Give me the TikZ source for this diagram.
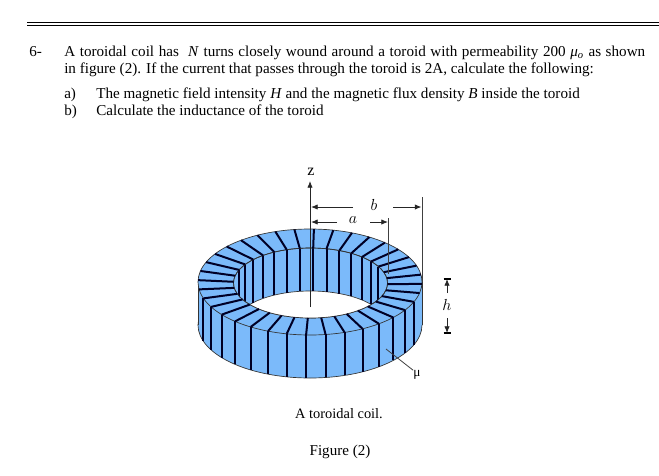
\documentclass[tikz,border=0pt]{standalone}
\usepackage{fontspec}
\usetikzlibrary{arrows.meta}
\setmainfont{Liberation Serif}
\tikzset{
  txt/.style={anchor=base west,inner sep=0pt,font=\fontsize{11.35pt}{12pt}\selectfont},
  caption/.style={anchor=base,inner sep=0pt,font=\fontsize{10.8pt}{12pt}\selectfont},
  dim/.style={inner sep=0pt,font=\fontsize{12pt}{12pt}\selectfont},
  body/.style={fill=coilblue,draw=black!80,line width=0.5pt},
  turn/.style={black!85!blue,line width=1.5pt},
  dimline/.style={black!75,line width=0.6pt},
  dimarrow/.style={black!85,line width=0.6pt,-{Latex[length=5pt,width=4pt]}}
}
\definecolor{coilblue}{HTML}{7BBAFA}
\begin{document}
\begin{tikzpicture}[x=0.75pt,y=-0.75pt]
  \useasboundingbox (0,0) rectangle (659,475);
  % heading rule
  \draw[line width=1.2pt] (27,22.5) -- (659,22.5);
  \draw[line width=0.6pt] (27,25.5) -- (659,25.5);
  % question
  \node[txt] (num) at (29,56) {6-};
  \node[txt] (lineA) at (64,56) {\hbox to 435.75pt{A toroidal coil has \ \textit{N} turns closely wound around a toroid with permeability 200 \textit{μ\textsubscript{o}} as shown}};
  \node[txt] (lineB) at (64,73) {in figure (2). If the current that passes through the toroid is 2A, calculate the following:};
  \node[txt] (itemA) at (64,98) {a)};
  \node[txt] (textA) at (96,98) {The magnetic field intensity \textit{H} and the magnetic flux density \textit{B} inside the toroid};
  \node[txt] (itemB) at (64,115) {b)};
  \node[txt] (textB) at (96,115) {Calculate the inductance of the toroid};
  % outer wall
  \draw[body] (310,325) ellipse [x radius=112,y radius=53];
  \fill[coilblue] (198,282) rectangle (422,325);
  \draw[body,fill=none] (198,282) -- (198,325);
  \draw[body,fill=none] (422,282) -- (422,325);
  % top face and inner wall
  \draw[body] (310,282) ellipse [x radius=112,y radius=53];
  \draw[body] (310.5,283) ellipse [x radius=77,y radius=35];
  \begin{scope}
    \clip (310.5,283) ellipse [x radius=77,y radius=35];
    \draw[body,fill=white] (310.5,326) ellipse [x radius=77,y radius=35];
    % turns on the inner wall
    \foreach \t in {202,212,...,332} {
      \draw[turn] ({310.5+77*cos(\t)},{283+35*sin(\t)}) -- ++(0,43);
    }
  \end{scope}
  \draw[body,fill=none] (310.5,283) ellipse [x radius=77,y radius=35];
  % turns on the top face
  \foreach \t in {2,12,...,352} {
    \draw[turn] ({310.5+77*cos(\t)},{283+35*sin(\t)}) -- ({310+112*cos(\t)},{282+53*sin(\t)});
  }
  % turns on the outer wall
  \foreach \t in {22,32,...,162} {
    \draw[turn] ({310+112*cos(\t)},{282+53*sin(\t)}) -- ++(0,43);
  }
  % z axis
  \coordinate (zfoot) at (310,307);
  \coordinate (ztip) at (310,181);
  \draw[dimarrow] (zfoot) -- (ztip);
  \node[dim] (zlabel) at (311,172) {z};
  % dimensions
  \node[dim] (blabel) at (374,205) {$b$};
  \node[dim] (alabel) at (353,220) {$a$};
  \coordinate (bstart) at (311,207);
  \coordinate (bstub) at (353,207);
  \coordinate (bstubr) at (393,207);
  \coordinate (bend) at (421.5,207);
  \coordinate (astart) at (311,222);
  \coordinate (astub) at (337,222);
  \coordinate (astubr) at (370,222);
  \coordinate (aend) at (388,222);
  \draw[dimarrow] (bstub) -- (bstart);
  \draw[dimarrow] (bstubr) -- (bend);
  \draw[dimarrow] (astub) -- (astart);
  \draw[dimarrow] (astubr) -- (aend);
  \coordinate (btop) at (422,197);
  \coordinate (bfoot) at (422,282);
  \coordinate (atop) at (388.5,218);
  \coordinate (afoot) at (388.5,274);
  \draw[dimline] (btop) -- (bfoot);
  \draw[dimline] (atop) -- (afoot);
  % height
  \node[dim] (hlabel) at (447,305) {$h$};
  \coordinate (htop) at (447,279);
  \coordinate (hbot) at (447,333);
  \coordinate (hstub) at (447,293);
  \coordinate (hstubb) at (447,318);
  \draw[line width=1pt] (443.5,279) -- (450.5,279);
  \draw[line width=1pt] (443.5,333) -- (450.5,333);
  \draw[dimarrow] (hstub) -- (htop);
  \draw[dimarrow] (hstubb) -- (hbot);
  % core label
  \node[dim,font=\fontsize{10pt}{12pt}\selectfont] (mulabel) at (417,375) {μ};
  \coordinate (mufoot) at (386,349);
  \draw[dimline] (mulabel.north west) -- (mufoot);
  % captions
  \node[caption] (coilcap) at (339,418) {A toroidal coil.};
  \node[caption,font=\fontsize{11.3pt}{12pt}\selectfont] (figcap) at (340,455) {Figure (2)};
\end{tikzpicture}
\end{document}
